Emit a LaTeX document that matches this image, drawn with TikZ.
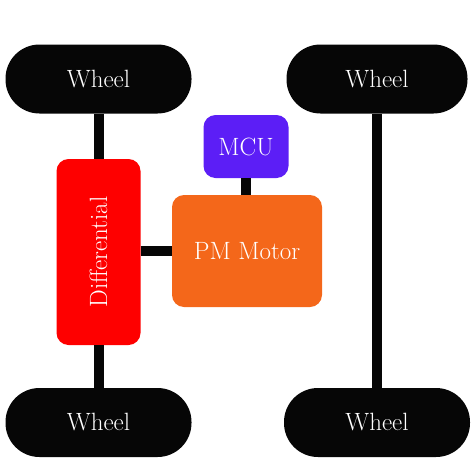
\documentclass[tikz,border=0pt]{standalone}
\definecolor{wheelblack}{RGB}{6,6,6}
\definecolor{diffred}{RGB}{254,0,0}
\definecolor{mcupurple}{RGB}{92,30,246}
\definecolor{motororange}{RGB}{244,103,26}
\tikzset{
  base/.style={text=white, font=\fontsize{25}{29}\selectfont, inner sep=0pt, align=center},
  wheelbox/.style={base, fill=wheelblack, rounded corners=34pt, minimum width=186pt, minimum height=69pt},
  blockbox/.style={base, rounded corners=12pt},
  shaft/.style={line width=10pt, draw=wheelblack}
}
\begin{document}
\begin{tikzpicture}[x=1pt,y=-1pt]
\useasboundingbox (0,0) rectangle (474,474);
\node[wheelbox] (wtl) at (98.5,79) {Wheel};
\node[wheelbox, minimum width=181pt] (wtr) at (377,79) {Wheel};
\node[wheelbox] (wbl) at (98.5,422.5) {Wheel};
\node[wheelbox] (wbr) at (377,422.5) {Wheel};
\node[blockbox, fill=diffred, minimum width=84pt, minimum height=186pt] (diff) at (98.5,252) {};
\node[base, rotate=90] (difftext) at (diff.center) {Differential};
\node[blockbox, fill=mcupurple, minimum width=85pt, minimum height=63pt] (mcu) at (246,146.5) {MCU};
\node[blockbox, fill=motororange, minimum width=150pt, minimum height=112pt] (motor) at (247,251) {PM Motor};
\draw[shaft] (wtl.south) -- (diff.north);
\draw[shaft] (diff.south) -- (wbl.north);
\draw[shaft] (wtr.south) -- (wbr.north);
\draw[shaft] (mcu.south) -- (mcu.south |- motor.north);
\draw[shaft] (diff.east |- motor.west) -- (motor.west);
\end{tikzpicture}
\end{document}
